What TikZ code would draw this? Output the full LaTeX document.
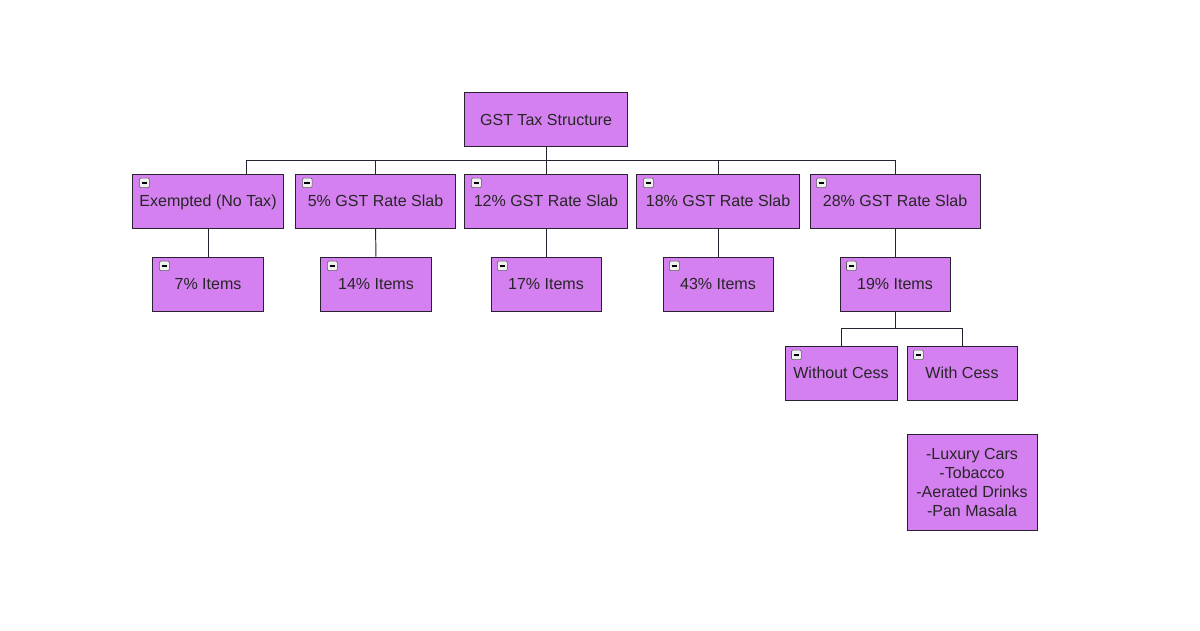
\documentclass[tikz,border=0pt]{standalone}
\usepackage{fontspec}
\setmainfont{Liberation Sans}
\usepackage{xcolor}
\definecolor{colSlab}{RGB}{213,128,240}
\definecolor{colEdge}{RGB}{40,34,48}
\usepackage{tikz}
\usetikzlibrary{positioning, calc}
\tikzset{
	slabbox/.style={draw=colEdge, line width=0.7pt, fill=colSlab, minimum height=1.35cm, minimum width=#1, inner sep=1pt, font=\fontsize{11.4}{13.6}\selectfont, text=black!85},
	slabbox/.default=2.75cm,
	foldbox/.style={slabbox=#1, text depth=0pt, path picture={
		\draw[gray!70!black, fill=gray!12, line width=0.4pt, rounded corners=0.9pt] ([shift={(4.6pt,-2.9pt)}]path picture bounding box.north west) rectangle ++(7pt,-6.8pt);
		\draw[black, line width=1pt] ([shift={(6.1pt,-6.3pt)}]path picture bounding box.north west) -- ++(4pt,0);
	}},
	foldbox/.default=2.75cm,
	treeline/.style={draw=colEdge, line width=0.7pt},
}

\begin{document}
\begin{tikzpicture}[x=0.025cm, y=-0.025cm]
				\useasboundingbox (0,0) rectangle (1200,630);
				% top level
				\node[slabbox=4.05cm] (root) at (546,119.5) {GST Tax Structure};
				\node[foldbox=3.75cm] (ex) at (208,201) {Exempted (No Tax)};
				\node[foldbox=3.98cm] (s5) at (375.5,201) {5\% GST Rate Slab};
				\node[foldbox=4.05cm] (s12) at (546,201) {12\% GST Rate Slab};
				\node[foldbox=4.05cm] (s18) at (718,201) {18\% GST Rate Slab};
				\node[foldbox=4.25cm] (s28) at (895,201) {28\% GST Rate Slab};
				% items
				\node[foldbox] (i7) at (208,284) {7\% Items};
				\node[foldbox] (i14) at (376,284) {14\% Items};
				\node[foldbox] (i17) at (546,284) {17\% Items};
				\node[foldbox] (i43) at (718,284) {43\% Items};
				\node[foldbox] (i19) at (895,284) {19\% Items};
				\node[foldbox=2.8cm] (noc) at (841,373) {Without Cess};
				\node[foldbox] (wc) at (962,373) {With Cess};
				\node[slabbox=3.25cm, minimum height=2.42cm, align=center] (goods) at (972,482.5) {-Luxury Cars\\-Tobacco\\-Aerated Drinks\\-Pan Masala};
				% connectors
				\coordinate (exin) at ($(ex.north)+(38,0)$);
				\foreach \c in {exin, s5.north, s12.north, s18.north, s28.north}
					\draw[treeline] (root.south) -- ++(0,13) -| (\c);
				\draw[treeline] (ex) -- (i7);
				\draw[treeline] (s5) -- (i14);
				\draw[treeline] (s12) -- (i17);
				\draw[treeline] (s18) -- (i43);
				\draw[treeline] (s28) -- (i19);
				\foreach \c in {noc, wc}
					\draw[treeline] (i19.south) -- ++(0,17) -| (\c.north);
			\end{tikzpicture}
\end{document}
